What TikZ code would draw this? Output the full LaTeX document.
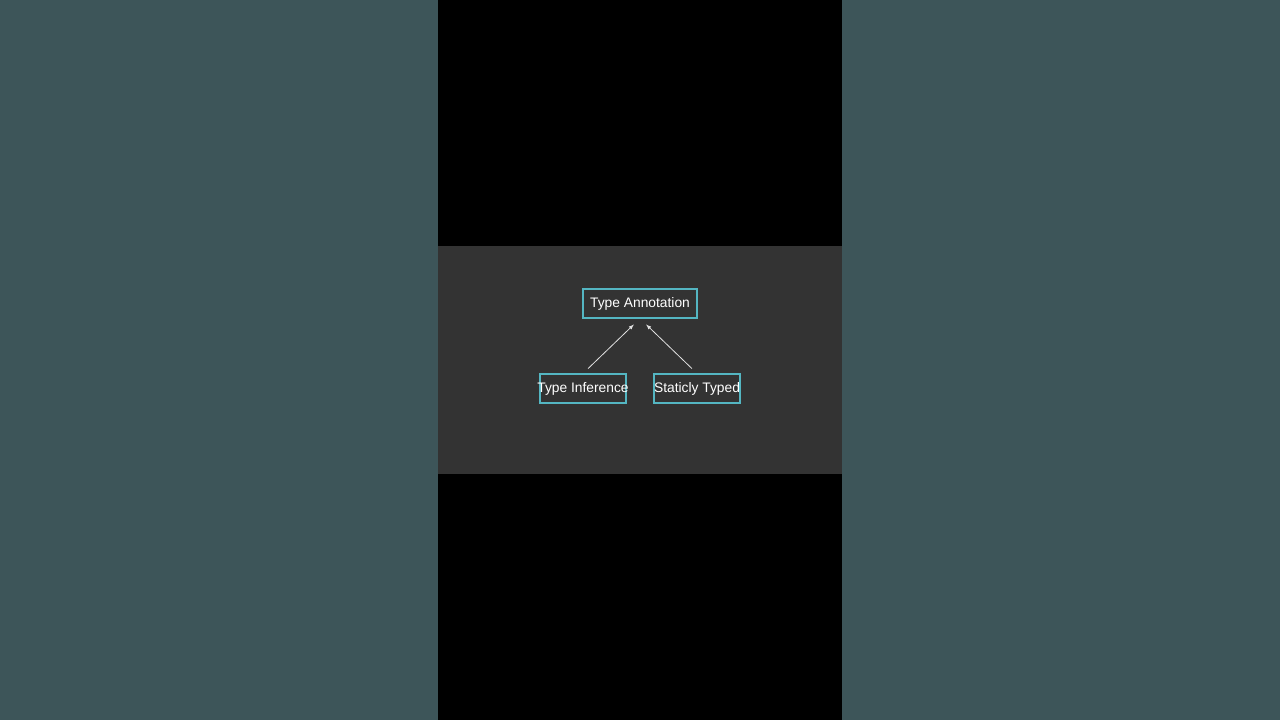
\documentclass[tikz,border=0pt]{standalone}
\usepackage{fontspec}
\setmainfont{Liberation Sans}
\definecolor{sidebg}{RGB}{61,85,89}
\definecolor{panelbg}{RGB}{51,51,51}
\definecolor{boxline}{RGB}{84,182,194}
\definecolor{arrowcol}{RGB}{225,225,225}
\begin{document}
\begin{tikzpicture}[
        x=1pt, y=-1pt,
        concept/.style={draw=boxline, line width=1.1pt, inner sep=0pt,
            text=white, font=\fontsize{13.8}{16}\selectfont},
        conn/.style={-latex, arrowcol, line width=0.8pt,
            shorten <=7pt, shorten >=8.5pt}
    ]
    % Pozadi
    \fill[sidebg] (0,0) rectangle (1280,720);
    \fill[black] (438,0) rectangle (842,720);
    \fill[panelbg] (438,246) rectangle (842,474);

    % Uzly
    \node[concept, minimum width=114pt, minimum height=29pt] (ann) at (640,303.5)
        {\makebox[100pt][c]{Type Annotation}};
    \node[concept, minimum width=86pt, minimum height=29pt] (inf) at (583,388.5)
        {\makebox[80pt][c]{Type Inference}};
    \node[concept, minimum width=86pt, minimum height=29pt] (tpd) at (697,388.5)
        {\makebox[80pt][c]{Staticly Typed}};

    % Sipky
    \draw[conn] (inf.north) -- (ann.south);
    \draw[conn] (tpd.north) -- (ann.south);
\end{tikzpicture}
\end{document}
